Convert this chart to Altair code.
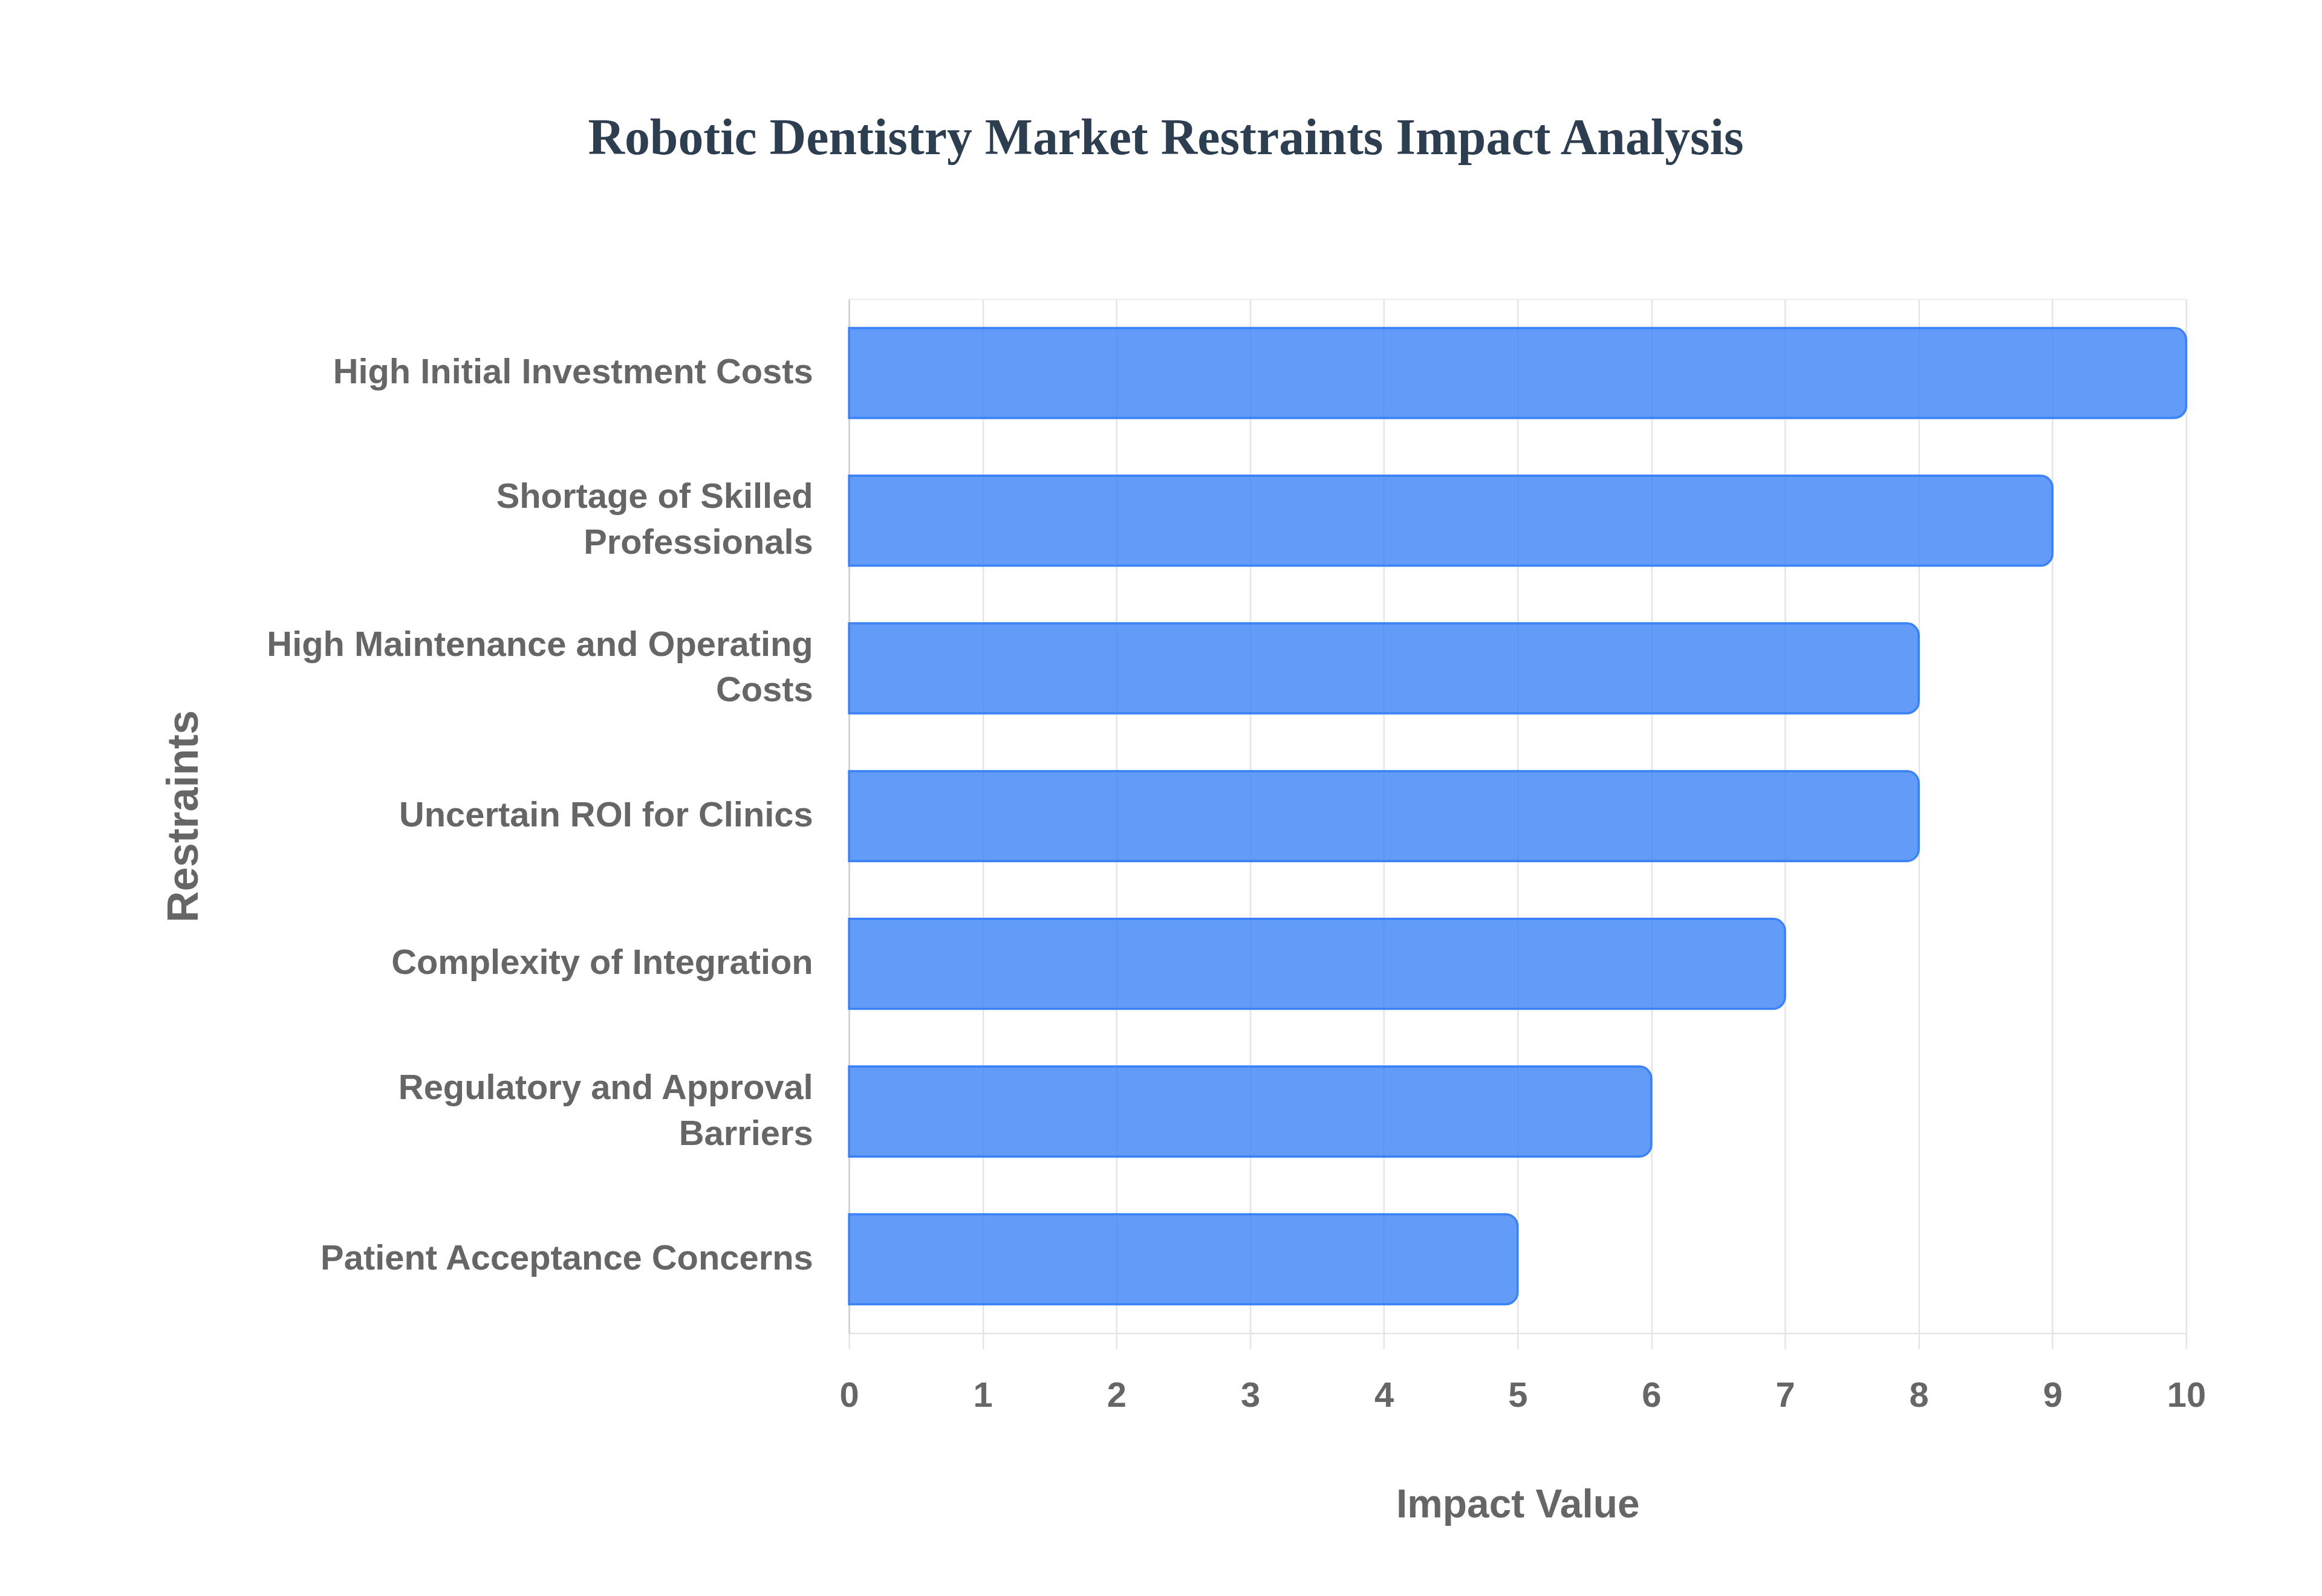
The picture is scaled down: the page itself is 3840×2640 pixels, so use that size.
import pandas as pd
import altair as alt

# -----------------------------
# DATOS
# -----------------------------
restraints = [
    "High Initial Investment Costs",
    "Shortage of Skilled Professionals",
    "High Maintenance and Operating Costs",
    "Uncertain ROI for Clinics",
    "Complexity of Integration",
    "Regulatory and Approval Barriers",
    "Patient Acceptance Concerns",
]
# etiquetas partidas en lineas, como en el original
label_lines = [
    ["High Initial Investment Costs"],
    ["Shortage of Skilled", "Professionals"],
    ["High Maintenance and Operating", "Costs"],
    ["Uncertain ROI for Clinics"],
    ["Complexity of Integration"],
    ["Regulatory and Approval", "Barriers"],
    ["Patient Acceptance Concerns"],
]
impact = [10, 9, 8, 8, 7, 6, 5]
x_ticks = [0, 1, 2, 3, 4, 5, 6, 7, 8, 9, 10]

df = pd.DataFrame({
    "restraint": restraints,
    "label": ["|".join(l) for l in label_lines],
    "impact": impact,
})

grid_col = "#e5e5e5"
text_col = "#666666"
sans = "Liberation Sans"

# -----------------------------
# GRAFICO
# -----------------------------
bars = alt.Chart(df).mark_bar(
    fill="#3b82f6",
    fillOpacity=0.8,
    stroke="#3b82f6",
    strokeWidth=3.5,
    cornerRadiusEnd=20,
).encode(
    x=alt.X(
        "impact:Q",
        scale=alt.Scale(domain=[0, 10], nice=False),
        axis=alt.Axis(
            values=x_ticks, format="d", title="Impact Value",
            grid=True, gridColor=grid_col, gridWidth=2.5,
            domainColor=grid_col, domainWidth=2.5,
            tickColor=grid_col, tickWidth=2.5, tickSize=26,
            labelFont=sans, labelFontSize=58, labelFontWeight="bold",
            labelColor=text_col, labelPadding=50, labelFlush=False,
            titleFont=sans, titleFontSize=66, titleFontWeight="bold",
            titleColor=text_col, titleX=1108, titleY=285,
            titleBaseline="middle", titleAlign="center",
        ),
    ),
    y=alt.Y(
        "label:N",
        sort=["|".join(l) for l in label_lines],
        scale=alt.Scale(paddingInner=0.39, paddingOuter=0.195),
        axis=alt.Axis(
            title="Restraints", grid=False, ticks=False,
            domainColor="#d0d0d0", domainWidth=2.5,
            labelExpr="split(datum.label, '|')",
            labelFont=sans, labelFontSize=58, labelFontWeight="bold",
            labelColor=text_col, labelPadding=60, labelLineHeight=76,
            labelBaseline="middle", labelLimit=2000,
            labelOffset={"condition": {"test": "indexof(datum.value, '|') >= 0", "value": -38}, "value": 0},
            titleFont=sans, titleFontSize=72, titleFontWeight="bold",
            titleColor=text_col, titleX=-1102, titleY=857,
            titleBaseline="middle", titleAlign="center", titleAngle=270,
        ),
    ),
).properties(
    width=2216,
    height=1714,
    title=alt.TitleParams(
        "Robotic Dentistry Market Restraints Impact Analysis",
        font="Liberation Serif", fontSize=84, fontWeight="bold",
        color="#2c3e50", anchor="middle", frame="group", dx=-583,
        baseline="alphabetic", offset=156,
    ),
    autosize=alt.AutoSizeParams(type="none"),
    padding={"left": 1399, "top": 485, "right": 217, "bottom": 433},
).configure_view(
    strokeWidth=0
).configure(background="white")

chart = bars
chart.save("out.html", embed_options={"renderer": "svg", "actions": False})
